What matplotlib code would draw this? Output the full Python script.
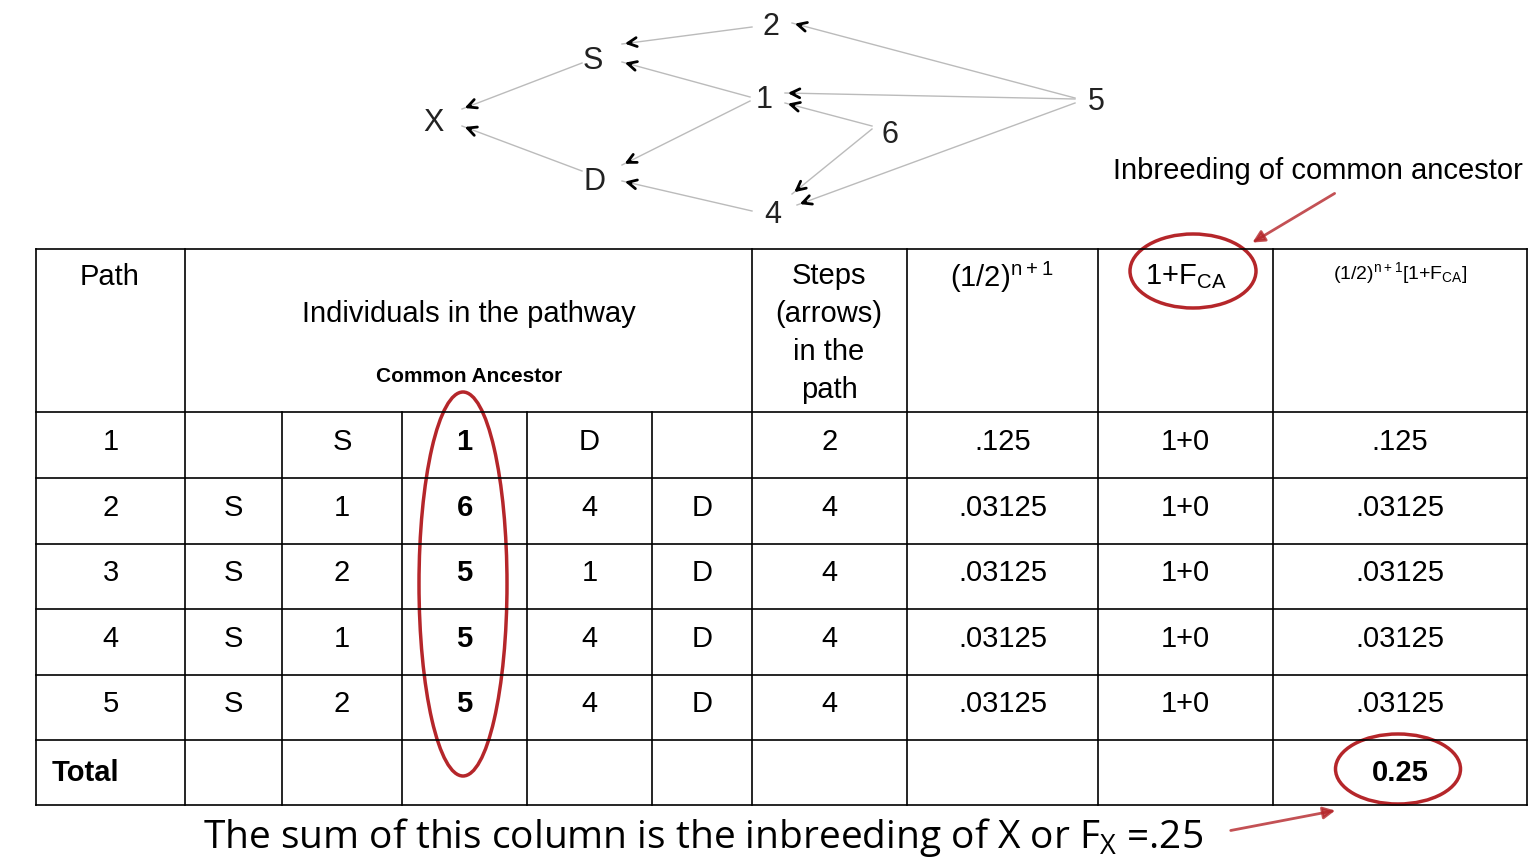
import matplotlib
matplotlib.use("Agg")
import matplotlib.pyplot as plt
from matplotlib.patches import Ellipse

plt.rcParams['font.family'] = ['Liberation Sans', 'DejaVu Sans']
plt.rcParams['mathtext.default'] = 'regular'

# pedigree nodes and edges (ancestor -> descendant)
nodes = {"X": (434, 121), "S": (593, 59), "D": (595, 180), "2": (771, 25),
         "1": (764, 98), "6": (890, 133), "4": (773, 213), "5": (1096, 100)}
edges = [((582, 64), (462, 110)), ((582, 172), (462, 127)),
         ((752, 28), (622, 45)), ((750, 98), (622, 63)),
         ((750, 102), (622, 166)), ((752, 212), (622, 182)),
         ((1075, 99), (792, 24)), ((1075, 100), (785, 94)),
         ((872, 127), (785, 104)), ((872, 130), (792, 195)),
         ((1075, 104), (797, 206))]

# table contents
paths = ["1", "2", "3", "4", "5"]
individuals = [["", "S", "1", "D", ""],
               ["S", "1", "6", "4", "D"],
               ["S", "2", "5", "1", "D"],
               ["S", "1", "5", "4", "D"],
               ["S", "2", "5", "4", "D"]]
steps = ["2", "4", "4", "4", "4"]
half_pow = [".125", ".03125", ".03125", ".03125", ".03125"]
one_f = ["1+0"] * 5
contrib = [".125", ".03125", ".03125", ".03125", ".03125"]
total = "0.25"

col_x = [36, 185, 282, 402, 527, 652, 752, 907, 1098, 1273, 1527]
row_y = [250, 413, 479, 545, 610, 676, 741, 806]
red = "#b5262a"

fig = plt.figure(figsize=(15.37, 8.62), dpi=100)
ax = fig.add_axes([0, 0, 1, 1])
ax.set_xlim(0, 1537)
ax.set_ylim(862, 0)
ax.axis("off")

# diagram
for (x0, y0), (x1, y1) in edges:
    ax.plot([x0, x1], [y0, y1], color="#bbbbbb", lw=1)
    dx, dy = x1 - x0, y1 - y0
    n = (dx ** 2 + dy ** 2) ** 0.5
    ax.annotate("", xy=(x1, y1), xytext=(x1 - dx / n * 12, y1 - dy / n * 12),
                arrowprops=dict(arrowstyle="->", color="black", lw=2, mutation_scale=16))
for k, (x, y) in nodes.items():
    ax.text(x, y + 2, k, fontsize=22, ha="center", va="center", color="#222222")

ax.text(1113, 171, "Inbreeding of common ancestor", fontsize=21, va="center", clip_on=True)
ax.annotate("", xy=(1250, 245), xytext=(1337, 193),
            arrowprops=dict(arrowstyle="-|>", color=red, lw=2, mutation_scale=18,
                            alpha=0.8))

# grid
lw = 1.2
for y in row_y:
    ax.plot([col_x[0], col_x[-1]], [y, y], color="black", lw=lw)
for i, x in enumerate(col_x):
    if i in (2, 3, 4, 5):
        ax.plot([x, x], [row_y[1], row_y[-1]], color="black", lw=lw)
    else:
        ax.plot([x, x], [row_y[0], row_y[-1]], color="black", lw=lw)

fs = 21
ax.text(110, 277, "Path", fontsize=fs, ha="center", va="center")
ax.text(469, 314, "Individuals in the pathway", fontsize=fs, ha="center", va="center")
ax.text(469, 377, "Common Ancestor", fontsize=15, ha="center", va="center", weight="bold")
ax.text(829, 333, "Steps\n(arrows)\nin the\npath", fontsize=fs, ha="center", va="center",
        linespacing=1.45)
ax.text(1002, 277, r"(1/2)$^{n+1}$", fontsize=fs, ha="center", va="center")
ax.text(1186, 277, r"1+F$_{CA}$", fontsize=fs, ha="center", va="center")
ax.text(1400, 273, r"(1/2)$^{n+1}$[1+F$_{CA}$]", fontsize=14, ha="center", va="center")

centers = [(col_x[i] + col_x[i + 1]) / 2 for i in range(len(col_x) - 1)]
for r in range(5):
    yc = (row_y[r + 1] + row_y[r + 2]) / 2 - 4
    vals = [paths[r]] + individuals[r] + [steps[r], half_pow[r], one_f[r], contrib[r]]
    for c, v in enumerate(vals):
        ax.text(centers[c], yc, v, fontsize=fs, ha="center", va="center",
                weight="bold" if c == 3 else "normal")
yt = (row_y[-2] + row_y[-1]) / 2
ax.text(52, yt, "Total", fontsize=fs, ha="left", va="center", weight="bold")
ax.text(centers[-1], yt, total, fontsize=fs, ha="center", va="center", weight="bold")

# red highlights
for (cx, cy, w, h) in [(1193, 272, 126, 74), (463, 585, 88, 384), (1398, 770, 125, 70)]:
    ax.add_patch(Ellipse((cx, cy), w, h, fill=False, ec=red, lw=2.5))

ax.text(203, 838, r"The sum of this column is the inbreeding of X or F$_X$ =.25",
        fontsize=28, ha="left", va="center", family=["Open Sans", "DejaVu Sans"])
ax.annotate("", xy=(1338, 811), xytext=(1228, 832),
            arrowprops=dict(arrowstyle="-|>", color=red, lw=2, mutation_scale=18, alpha=0.8))

fig.savefig("out.png", dpi=100)
